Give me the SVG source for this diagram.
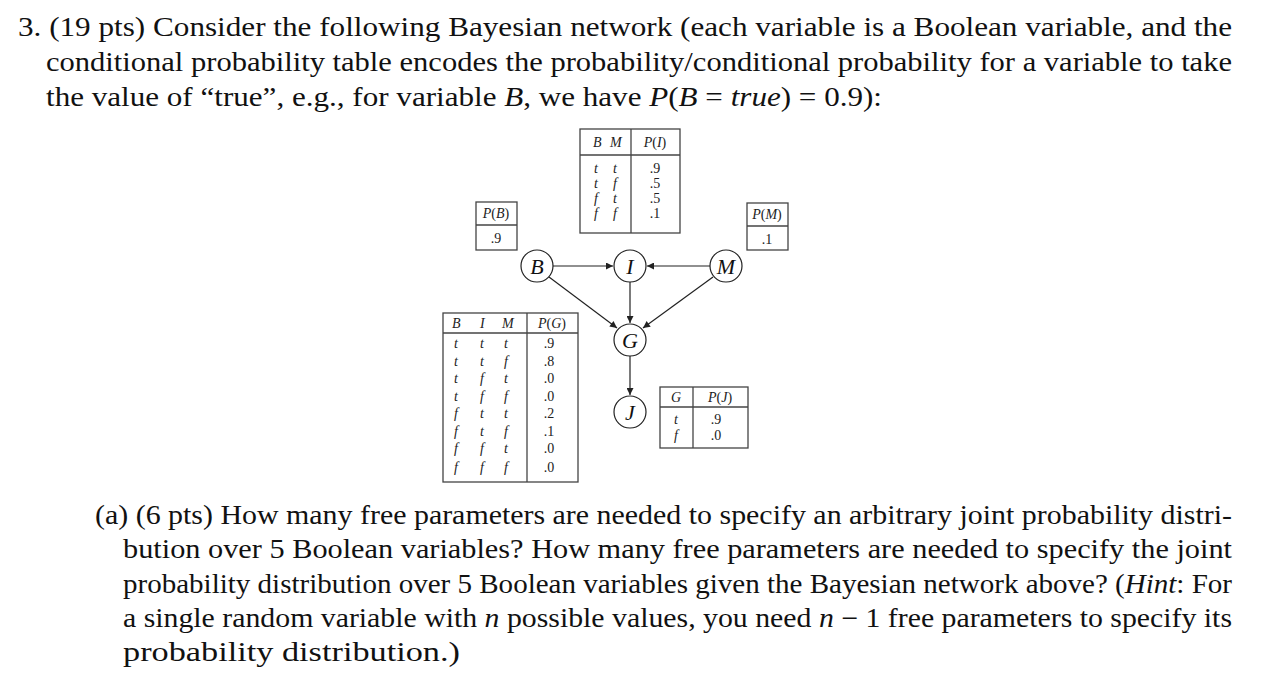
<svg xmlns="http://www.w3.org/2000/svg" width="1278" height="676" viewBox="0 0 1278 676">
<style>
.p{font-family:"Liberation Serif",serif;font-size:27px;fill:#111}
.t{font-family:"Liberation Serif",serif;font-size:14px;fill:#222}
.i{font-style:italic}
.n{font-family:"Liberation Serif",serif;font-size:22px;font-style:italic;fill:#111}
.b{fill:#fff;stroke:#444;stroke-width:1.3}
.l{stroke:#444;stroke-width:1.3;fill:none}
.c{fill:#fff;stroke:#222;stroke-width:1.2}
.e{stroke:#222;stroke-width:1.2;fill:none;marker-end:url(#a)}
</style>
<defs><marker id="a" viewBox="0 0 10 10" refX="10" refY="5" markerWidth="9" markerHeight="7" orient="auto" markerUnits="userSpaceOnUse"><path d="M0,0L10,5L0,10z" fill="#222"/></marker></defs>
<rect width="1278" height="676" fill="#fff"/>
<g id="text">
<text class="p" x="18" y="36" textLength="1214" lengthAdjust="spacingAndGlyphs">3. (19 pts) Consider the following Bayesian network (each variable is a Boolean variable, and the</text>
<text class="p" x="46" y="71" textLength="1186" lengthAdjust="spacingAndGlyphs">conditional probability table encodes the probability/conditional probability for a variable to take</text>
<text class="p" x="46" y="106" textLength="836" lengthAdjust="spacingAndGlyphs">the value of “true”, e.g., for variable <tspan class="i">B</tspan>, we have <tspan class="i">P</tspan>(<tspan class="i">B</tspan> = <tspan class="i">true</tspan>) = 0.9):</text>
<text class="p" x="95" y="524" textLength="1137" lengthAdjust="spacingAndGlyphs">(a) (6 pts) How many free parameters are needed to specify an arbitrary joint probability distri-</text>
<text class="p" x="123" y="558" textLength="1109" lengthAdjust="spacingAndGlyphs">bution over 5 Boolean variables? How many free parameters are needed to specify the joint</text>
<text class="p" x="123" y="593" textLength="1109" lengthAdjust="spacingAndGlyphs">probability distribution over 5 Boolean variables given the Bayesian network above? (<tspan class="i">Hint</tspan>: For</text>
<text class="p" x="123" y="627" textLength="1109" lengthAdjust="spacingAndGlyphs">a single random variable with <tspan class="i">n</tspan> possible values, you need <tspan class="i">n</tspan> − 1 free parameters to specify its</text>
<text class="p" x="123" y="661" textLength="337" lengthAdjust="spacingAndGlyphs">probability distribution.)</text>
</g>
<g id="connectors">
<line class="e" x1="553" y1="266" x2="613" y2="266"/>
<line class="e" x1="710" y1="266" x2="647" y2="266"/>
<line class="e" x1="549" y1="277" x2="617" y2="328"/>
<line class="e" x1="630" y1="282" x2="630" y2="323"/>
<line class="e" x1="713" y1="277" x2="643" y2="328"/>
<line class="e" x1="630" y1="356" x2="630" y2="395"/>
</g>
<g id="node-B"><circle class="c" cx="537" cy="266" r="16"/><text class="n" x="537" y="274" text-anchor="middle">B</text></g>
<g id="node-I"><circle class="c" cx="630" cy="266" r="16"/><text class="n" x="630" y="274" text-anchor="middle">I</text></g>
<g id="node-M"><circle class="c" cx="726" cy="266" r="16"/><text class="n" x="726" y="274" text-anchor="middle">M</text></g>
<g id="node-G"><circle class="c" cx="630" cy="340" r="16"/><text class="n" x="630" y="348" text-anchor="middle">G</text></g>
<g id="node-J"><circle class="c" cx="630" cy="412" r="16"/><text class="n" x="630" y="420" text-anchor="middle">J</text></g>
<g id="table-B"><rect class="b" x="476" y="202" width="41" height="48"/><line class="l" x1="476" y1="225" x2="517" y2="225"/>
<text class="t" x="496" y="218" text-anchor="middle"><tspan class="i">P</tspan>(<tspan class="i">B</tspan>)</text><text class="t" x="496" y="243" text-anchor="middle">.9</text></g>
<g id="table-M"><rect class="b" x="747" y="203" width="41" height="47"/><line class="l" x1="747" y1="226" x2="788" y2="226"/>
<text class="t" x="767" y="219" text-anchor="middle"><tspan class="i">P</tspan>(<tspan class="i">M</tspan>)</text><text class="t" x="767" y="244" text-anchor="middle">.1</text></g>
<g id="table-I"><rect class="b" x="580" y="129" width="100" height="104"/><line class="l" x1="580" y1="155" x2="680" y2="155"/><line class="l" x1="631" y1="129" x2="631" y2="233"/>
<text class="t i" x="593" y="147">B</text><text class="t i" x="610" y="147">M</text><text class="t" x="655" y="147" text-anchor="middle"><tspan class="i">P</tspan>(<tspan class="i">I</tspan>)</text>
<g class="t i"><text x="594" y="173">t</text><text x="613" y="173">t</text><text x="594" y="188">t</text><text x="613" y="188">f</text><text x="594" y="203">f</text><text x="613" y="203">t</text><text x="594" y="218">f</text><text x="613" y="218">f</text></g>
<g class="t" text-anchor="middle"><text x="655" y="173">.9</text><text x="655" y="188">.5</text><text x="655" y="203">.5</text><text x="655" y="218">.1</text></g></g>
<g id="table-G"><rect class="b" x="443" y="313" width="135" height="169"/><line class="l" x1="443" y1="333" x2="578" y2="333"/><line class="l" x1="527" y1="313" x2="527" y2="482"/>
<text class="t i" x="452" y="328">B</text><text class="t i" x="480" y="328">I</text><text class="t i" x="502" y="328">M</text><text class="t" x="552" y="328" text-anchor="middle"><tspan class="i">P</tspan>(<tspan class="i">G</tspan>)</text>
<g class="t i">
<text x="454" y="348">t</text><text x="480" y="348">t</text><text x="504" y="348">t</text>
<text x="454" y="366">t</text><text x="480" y="366">t</text><text x="504" y="366">f</text>
<text x="454" y="383">t</text><text x="480" y="383">f</text><text x="504" y="383">t</text>
<text x="454" y="401">t</text><text x="480" y="401">f</text><text x="504" y="401">f</text>
<text x="454" y="418">f</text><text x="480" y="418">t</text><text x="504" y="418">t</text>
<text x="454" y="436">f</text><text x="480" y="436">t</text><text x="504" y="436">f</text>
<text x="454" y="453">f</text><text x="480" y="453">f</text><text x="504" y="453">t</text>
<text x="454" y="472">f</text><text x="480" y="472">f</text><text x="504" y="472">f</text></g>
<g class="t" text-anchor="middle"><text x="549" y="348">.9</text><text x="549" y="366">.8</text><text x="549" y="383">.0</text><text x="549" y="401">.0</text><text x="549" y="418">.2</text><text x="549" y="436">.1</text><text x="549" y="453">.0</text><text x="549" y="472">.0</text></g></g>
<g id="table-J"><rect class="b" x="660" y="387" width="88" height="61"/><line class="l" x1="660" y1="407" x2="748" y2="407"/><line class="l" x1="693" y1="387" x2="693" y2="448"/>
<text class="t i" x="676" y="402" text-anchor="middle">G</text><text class="t" x="720" y="402" text-anchor="middle"><tspan class="i">P</tspan>(<tspan class="i">J</tspan>)</text>
<text class="t i" x="676" y="424" text-anchor="middle">t</text><text class="t i" x="676" y="440" text-anchor="middle">f</text>
<text class="t" x="716" y="424" text-anchor="middle">.9</text><text class="t" x="716" y="440" text-anchor="middle">.0</text></g>
</svg>
